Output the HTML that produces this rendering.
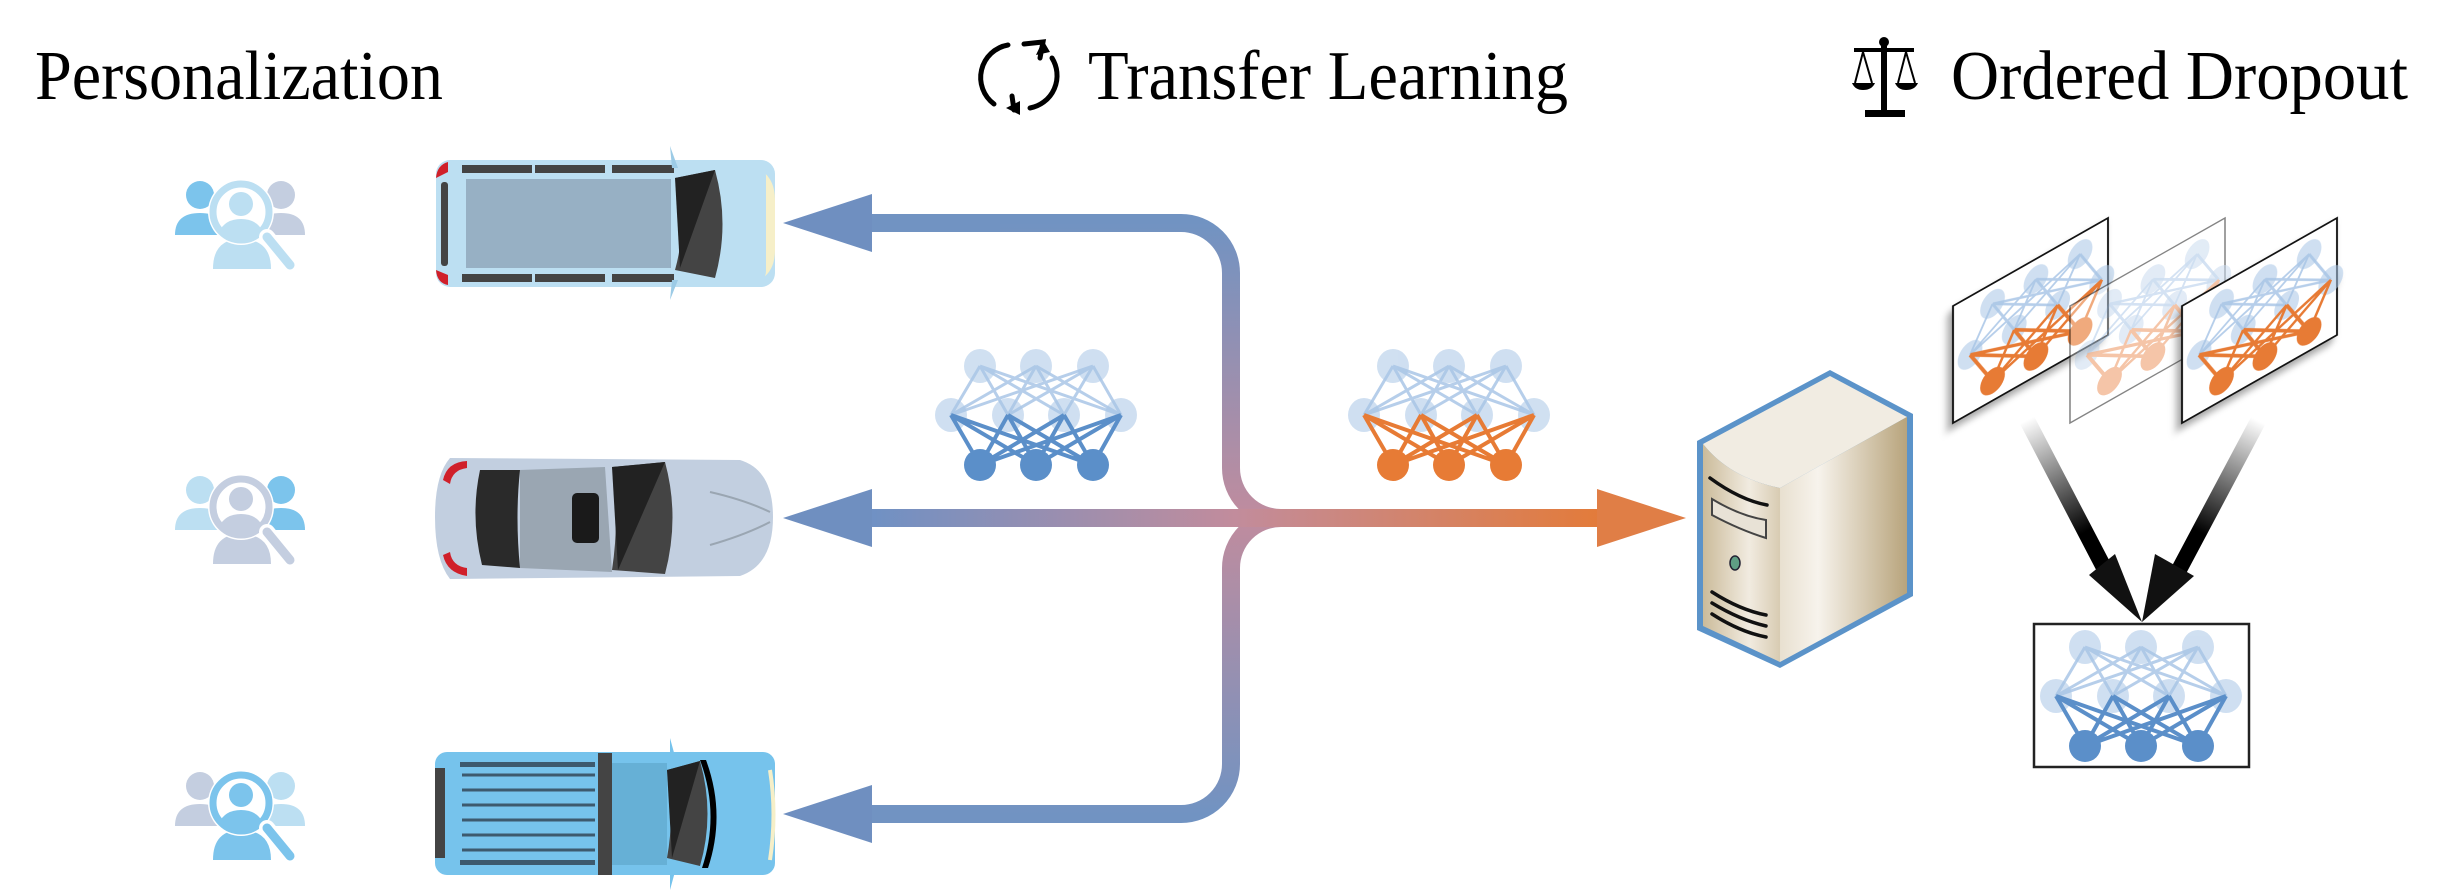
<!DOCTYPE html>
<html><head><meta charset="utf-8"><style>
html,body{margin:0;padding:0;background:#fff;}
svg{display:block;}
text{font-family:"Liberation Serif",serif;fill:#000;}
</style></head><body>
<svg width="2442" height="890" viewBox="0 0 2442 890" xmlns="http://www.w3.org/2000/svg">
<defs>
<linearGradient id="gh" gradientUnits="userSpaceOnUse" x1="870" y1="0" x2="1600" y2="0">
<stop offset="0" stop-color="#6f91c4"/><stop offset="0.5" stop-color="#c28c9c"/><stop offset="1" stop-color="#e37b3a"/></linearGradient>
<linearGradient id="gvt" gradientUnits="userSpaceOnUse" x1="0" y1="223" x2="0" y2="518">
<stop offset="0" stop-color="#7193c2"/><stop offset="1" stop-color="#c08c9e"/></linearGradient>
<linearGradient id="gvb" gradientUnits="userSpaceOnUse" x1="0" y1="518" x2="0" y2="814">
<stop offset="0" stop-color="#c08c9e"/><stop offset="1" stop-color="#7193c2"/></linearGradient>
<linearGradient id="side" x1="0" y1="0" x2="1" y2="0">
<stop offset="0" stop-color="#e8e0d0"/><stop offset="0.3" stop-color="#f7f3ec"/><stop offset="1" stop-color="#b8a47c"/></linearGradient>
<linearGradient id="front" x1="0" y1="0" x2="1" y2="0">
<stop offset="0" stop-color="#cbbb9a"/><stop offset="0.6" stop-color="#f1ebe0"/><stop offset="1" stop-color="#d8cbb2"/></linearGradient>
<linearGradient id="ba1" gradientUnits="userSpaceOnUse" x1="2027" y1="420" x2="2110" y2="580">
<stop offset="0" stop-color="#fff"/><stop offset="0.7" stop-color="#000"/></linearGradient>
<linearGradient id="ba2" gradientUnits="userSpaceOnUse" x1="2257" y1="420" x2="2175" y2="580">
<stop offset="0" stop-color="#fff"/><stop offset="0.7" stop-color="#000"/></linearGradient>
<g id="nn">
 <g stroke="#a9c6e6" stroke-width="3" fill="none" opacity="0.85">
  <path d="M43 14L14 63M43 14L71 63M43 14L127 63M43 14L184 63M99 14L14 63M99 14L71 63M99 14L127 63M99 14L184 63M156 14L14 63M156 14L71 63M156 14L127 63M156 14L184 63"/>
 </g>
 <g fill="#a9c6e6" opacity="0.55">
  <ellipse cx="43" cy="14" rx="16" ry="17"/><ellipse cx="99" cy="14" rx="16" ry="17"/><ellipse cx="156" cy="14" rx="16" ry="17"/>
  <ellipse cx="14" cy="63" rx="16" ry="17"/><ellipse cx="71" cy="63" rx="16" ry="17"/><ellipse cx="127" cy="63" rx="16" ry="17"/><ellipse cx="184" cy="63" rx="16" ry="17"/>
 </g>
 <g stroke="currentColor" stroke-width="4" fill="none">
  <path d="M14 63L43 113M14 63L99 113M14 63L156 113M71 63L43 113M71 63L99 113M71 63L156 113M127 63L43 113M127 63L99 113M127 63L156 113M184 63L43 113M184 63L99 113M184 63L156 113"/>
 </g>
 <g fill="currentColor"><ellipse cx="43" cy="113" rx="16" ry="16"/><ellipse cx="99" cy="113" rx="16" ry="16"/><ellipse cx="156" cy="113" rx="16" ry="16"/></g>
</g>
<g id="ppl">
 <circle cx="25" cy="18" r="14" fill="var(--l)"/><path d="M0 58 Q0 36 25 36 Q50 36 50 58Z" fill="var(--l)"/>
 <circle cx="106" cy="18" r="14" fill="var(--r)"/><path d="M80 58 Q80 36 106 36 Q130 36 130 58Z" fill="var(--r)"/>
 <path d="M38 92 Q38 62 66 62 Q96 62 96 92Z" fill="var(--c)"/>
 <circle cx="66" cy="35" r="33" fill="#fff"/>
 <circle cx="66" cy="35" r="28" fill="none" stroke="var(--c)" stroke-width="7"/>
 <circle cx="66" cy="27" r="12" fill="var(--c)"/><path d="M44 55 Q50 42 66 42 Q82 42 88 55 Q66 66 44 55Z" fill="var(--c)"/>
 <line x1="92" y1="60" x2="115" y2="88" stroke="#fff" stroke-width="16" stroke-linecap="round"/>
 <line x1="92" y1="60" x2="115" y2="88" stroke="var(--c)" stroke-width="9" stroke-linecap="round"/>
</g>
</defs>

<!-- titles -->
<text x="35" y="99" font-size="70" textLength="408" lengthAdjust="spacingAndGlyphs">Personalization</text>
<text x="1088" y="99" font-size="70" textLength="480" lengthAdjust="spacingAndGlyphs">Transfer Learning</text>
<text x="1951" y="99" font-size="70" textLength="457" lengthAdjust="spacingAndGlyphs">Ordered Dropout</text>
<!-- cycle icon -->
<g fill="none" stroke="#000" stroke-width="5" stroke-linecap="round">
 <path d="M1008 45 A33 33 0 0 0 994 104"/><path d="M1030 108 A33 33 0 0 0 1052 58"/>
 <path d="M1024 44 L1043 42 L1040 58"/><path d="M1014 110 L1012 96"/>
</g>
<path d="M1043 40 L1050 52 L1036 55Z" fill="#000"/>
<path d="M1006 108 L1020 101 L1020 115Z" fill="#000"/>
<!-- scale icon -->
<g fill="#000">
 <rect x="1865" y="110" width="40" height="7"/><rect x="1881" y="42" width="6" height="70"/>
 <rect x="1854" y="48" width="60" height="4"/><circle cx="1884" cy="42" r="5"/>
 <path d="M1852 83 L1875 83 Q1872 90 1863 90 Q1855 90 1852 83Z"/><path d="M1895 83 L1918 83 Q1915 90 1906 90 Q1898 90 1895 83Z"/>
</g>
<g stroke="#000" stroke-width="2" fill="none"><path d="M1863 52L1855 83M1863 52L1872 83M1906 52L1898 83M1906 52L1915 83"/></g>

<!-- people icons -->
<use href="#ppl" x="175" y="177" style="--l:#7cc4ec;--r:#c4cee0;--c:#bcdff2"/>
<use href="#ppl" x="175" y="472" style="--l:#bcdff2;--r:#7cc4ec;--c:#c4cee0"/>
<use href="#ppl" x="175" y="768" style="--l:#c4cee0;--r:#bcdff2;--c:#7cc4ec"/>

<!-- van -->
<g>
 <rect x="436" y="160" width="339" height="127" rx="14" fill="#bcdff2"/>
 <path d="M735 163 Q775 165 775 200 L775 250 Q775 285 735 285Z" fill="#f6efc8"/>
 <rect x="436" y="162" width="330" height="123" rx="14" fill="#bcdff2"/>
 <rect x="466" y="179" width="205" height="89" fill="#97b0c4"/>
 <path d="M675 178 L715 170 Q730 224 715 278 L675 270 Q688 224 675 178Z" fill="#444"/>
 <path d="M675 178 L715 170 L680 268Z" fill="#222"/>
 <rect x="462" y="165" width="70" height="8" fill="#444"/><rect x="535" y="165" width="70" height="8" fill="#444"/><rect x="612" y="165" width="62" height="8" fill="#444"/>
 <rect x="462" y="274" width="70" height="8" fill="#444"/><rect x="535" y="274" width="70" height="8" fill="#444"/><rect x="612" y="274" width="62" height="8" fill="#444"/>
 <rect x="441" y="182" width="7" height="84" rx="3" fill="#444"/>
 <path d="M436 178 Q437 165 448 162 L448 172Z" fill="#d0202a"/><path d="M436 270 Q437 283 448 285 L448 275Z" fill="#d0202a"/>
 <path d="M670 146 L678 168 L672 168Z" fill="#9ccbe6"/><path d="M670 300 L678 280 L672 280Z" fill="#9ccbe6"/>
</g>
<!-- sedan -->
<g>
 <path d="M450 458 L740 460 Q773 470 773 517 Q773 565 740 576 L450 579 Q435 560 435 517 Q435 475 450 458Z" fill="#c2cfe0"/>
 <path d="M520 470 L605 467 L612 572 L520 568Z" fill="#9aa6b2"/>
 <path d="M480 470 L520 470 Q515 517 520 568 L482 565 Q470 517 480 470Z" fill="#2a2a2a"/>
 <path d="M612 467 L665 462 Q680 517 665 574 L612 570 Q620 517 612 467Z" fill="#444"/>
 <path d="M612 467 L665 462 L618 570Z" fill="#222"/>
 <rect x="572" y="493" width="27" height="50" rx="5" fill="#1a1a1a"/>
 <path d="M443 480 Q447 462 467 461 L467 468 Q452 470 450 484Z" fill="#d0202a"/><path d="M443 555 Q447 573 467 576 L467 568 Q452 566 450 552Z" fill="#d0202a"/>
 <path d="M710 492 Q745 500 770 512 M710 545 Q745 535 770 522" stroke="#9aa6b2" stroke-width="2" fill="none"/>
</g>
<!-- truck -->
<g>
 <rect x="435" y="752" width="340" height="123" rx="12" fill="#76c3ec"/>
 <rect x="435" y="768" width="10" height="90" fill="#444"/>
 <rect x="598" y="753" width="14" height="122" fill="#444"/>
 <g stroke="#3d5a6e" stroke-width="3"><path d="M462 775H595M462 790H595M462 805H595M462 820H595M462 835H595M462 850H595"/></g>
 <rect x="460" y="762" width="135" height="5" fill="#3d5a6e"/><rect x="460" y="860" width="135" height="5" fill="#3d5a6e"/>
 <rect x="612" y="763" width="55" height="102" fill="#66b0d6"/>
 <path d="M667 770 L700 761 Q715 814 700 866 L667 858 Q675 814 667 770Z" fill="#444"/>
 <path d="M667 770 L700 761 L672 858Z" fill="#222"/>
 <path d="M700 760 Q720 814 702 868 L708 868 Q726 814 706 760Z" fill="#000"/>
 <path d="M770 770 Q777 814 770 860" stroke="#f6efc8" stroke-width="4" fill="none"/>
 <path d="M670 738 L676 760 L670 760Z" fill="#76c3ec"/><path d="M670 890 L676 868 L670 868Z" fill="#76c3ec"/>
</g>

<!-- connectors -->
<g fill="none" stroke-width="18">
 <path d="M865 223 H1181 A50 50 0 0 1 1231 273 V468 A50 50 0 0 0 1281 518" stroke="url(#gvt)"/>
 <path d="M865 814 H1181 A50 50 0 0 0 1231 764 V568 A50 50 0 0 1 1281 518" stroke="url(#gvb)"/>
 <path d="M865 518 H1600" stroke="url(#gh)"/>
</g>
<path d="M870 223 H1000" stroke="#7193c2" stroke-width="18"/>
<path d="M870 814 H1000" stroke="#7193c2" stroke-width="18"/>
<path d="M783 223 L872 194 L872 252Z" fill="#6f8fc0"/>
<path d="M783 518 L872 489 L872 547Z" fill="#6f8fc0"/>
<path d="M783 814 L872 785 L872 843Z" fill="#6f8fc0"/>
<path d="M1686 518 L1597 489 L1597 547Z" fill="#e07e46"/>

<!-- NN icons -->
<use href="#nn" x="937" y="352" color="#5b8fc9"/>
<use href="#nn" x="1350" y="352" color="#e77b35"/>

<!-- server -->
<path d="M1830 370 L1913 414 L1913 596 L1780 668 L1697 630 L1697 441Z" fill="#5b93c9"/>
<path d="M1830 376 L1907 417 L1780 488 Q1730 478 1703 444Z" fill="#f1ece2"/>
<path d="M1780 488 L1907 417 L1907 593 L1780 662Z" fill="url(#side)"/>
<path d="M1703 444 Q1730 478 1780 488 L1780 662 L1703 626Z" fill="url(#front)"/>
<g stroke="#111" stroke-width="3.5" fill="none" stroke-linecap="round">
 <path d="M1710 478 Q1740 500 1767 505"/><path d="M1712 592 Q1740 610 1766 615"/><path d="M1712 603 Q1740 620 1766 626"/><path d="M1712 614 Q1740 632 1766 637"/>
</g>
<path d="M1712 499 Q1740 516 1766 520 L1766 538 Q1740 530 1712 515Z" fill="#e8e2d6" stroke="#444" stroke-width="2"/>
<ellipse cx="1735" cy="563" rx="5" ry="7" fill="#5f9e84" stroke="#223" stroke-width="1.5"/>

<!-- dropout panels -->
<g transform="matrix(0.775,-0.44,0,0.78,1953,306)" style="filter:drop-shadow(-6px 6px 5px rgba(0,0,0,0.35))">
 <rect x="0" y="0" width="200" height="150" fill="#fff" stroke="#111" stroke-width="2.5"/>
 <use href="#nn" x="8" y="12" color="#e77b35"/>
</g>
<g transform="matrix(0.775,-0.44,0,0.78,2070,306)" opacity="0.6">
 <rect x="0" y="0" width="200" height="150" fill="#fff" fill-opacity="0.6" stroke="#333" stroke-width="2"/>
 <use href="#nn" x="8" y="12" color="#f0a070"/>
</g>
<g transform="matrix(0.775,-0.44,0,0.78,2182,306)" style="filter:drop-shadow(-6px 6px 5px rgba(0,0,0,0.35))">
 <rect x="0" y="0" width="200" height="150" fill="#fff" stroke="#111" stroke-width="2.5"/>
 <use href="#nn" x="8" y="12" color="#e77b35"/>
</g>

<!-- black arrows -->
<path d="M2027 420 L2112 583" stroke="url(#ba1)" stroke-width="16" stroke-linecap="round"/>
<path d="M2257 423 L2172 583" stroke="url(#ba2)" stroke-width="16" stroke-linecap="round"/>
<path d="M2142 622 L2089 575 L2115 554Z" fill="#111"/>
<path d="M2142 622 L2155 554 L2194 576Z" fill="#111"/>
<rect x="2034" y="624" width="215" height="143" fill="#fff" stroke="#222" stroke-width="2.5"/>
<use href="#nn" x="2042" y="633" color="#5b8fc9"/>
</svg>
</body></html>
